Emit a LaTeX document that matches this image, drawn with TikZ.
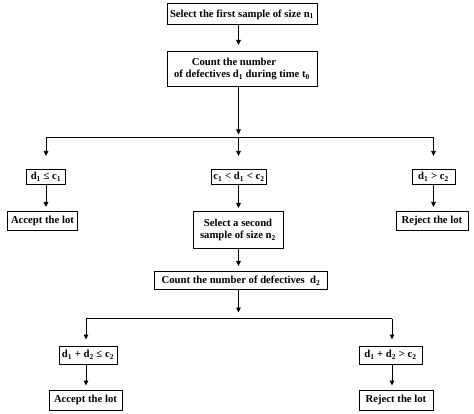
\documentclass[tikz,border=0pt]{standalone}
\usepackage{fontspec}
\setmainfont{Liberation Serif}
\usetikzlibrary{arrows.meta}
\newcommand{\sbs}[1]{\textsubscript{#1}}
\begin{document}
\begin{tikzpicture}[x=1pt,y=-1pt,
  box/.style={draw,line width=1pt,inner sep=0pt,font=\bfseries\fontsize{10.7}{12.5}\selectfont,align=center},
  arr/.style={line width=0.9pt,-{Triangle[length=5pt,width=4.5pt]}},
  ln/.style={line width=0.9pt}]
\useasboundingbox (0,0) rectangle (474,414);
\fill[white] (0,0) rectangle (474,414);
% nodes
\node[box,minimum width=150pt,minimum height=21pt] (b1) at (242,14.5) {Select the first sample of size n\sbs{1}};
\node[box,minimum width=150pt,minimum height=35pt] (b2) at (242,69) {\hspace*{-16pt}Count the number\\ of defectives d\sbs{1} during time t\sbs{0}};
\node[box,minimum width=39pt,minimum height=15pt] (c1) at (46,177) {d\sbs{1} ≤ c\sbs{1}};
\node[box,minimum width=55pt,minimum height=15pt] (c2) at (239,177) {c\sbs{1} < d\sbs{1} < c\sbs{2}};
\node[box,minimum width=43pt,minimum height=15pt] (c3) at (433.5,177) {d\sbs{1} > c\sbs{2}};
\node[box,minimum width=70pt,minimum height=19pt] (a1) at (42.5,221) {Accept the lot};
\node[box,minimum width=90pt,minimum height=37pt] (s2) at (238,230) {Select a second\\ sample of size n\sbs{2}};
\node[box,minimum width=72pt,minimum height=19pt] (r1) at (432,221) {Reject the lot};
\node[box,minimum width=173pt,minimum height=18pt] (d2) at (241,280.5) {Count the number of defectives\enspace d\sbs{2}};
\node[box,minimum width=58pt,minimum height=18pt] (e1) at (88,355) {d\sbs{1} + d\sbs{2} ≤ c\sbs{2}};
\node[box,minimum width=63pt,minimum height=18pt] (e2) at (390.5,355) {d\sbs{1} + d\sbs{2} > c\sbs{2}};
\node[box,minimum width=73pt,minimum height=20pt] (f1) at (85.5,400) {Accept the lot};
\node[box,minimum width=74pt,minimum height=20pt] (f2) at (396,400) {Reject the lot};
% junctions
\coordinate (j1) at (238.5,137.5);
\coordinate (jl) at (c1.north |- j1);
\coordinate (jr) at (c3.north |- j1);
\coordinate (k1) at (238.5,318.5);
\coordinate (kl) at (86,318.5);
\coordinate (kr) at (392,318.5);
% connectors
\draw[arr,shorten >=6pt] (j1 |- b1.south) -- (j1 |- b2.north);
\draw[arr,shorten >=3pt] (j1 |- b2.south) -- (j1);
\draw[ln] (jl) -- (jr);
\draw[arr,shorten >=13pt] (jl) -- (c1.north);
\draw[arr,shorten >=13pt] (j1) -- (j1 |- c2.north);
\draw[arr,shorten >=13pt] (jr) -- (c3.north);
\draw[arr,shorten >=4pt] (c1.south) -- (c1.south |- a1.north);
\draw[arr,shorten >=3pt] (j1 |- c2.south) -- (j1 |- s2.north);
\draw[arr,shorten >=4pt] (c3.south) -- (c3.south |- r1.north);
\draw[arr,shorten >=5pt] (j1 |- s2.south) -- (j1 |- d2.north);
\draw[arr,shorten >=6pt] (k1 |- d2.south) -- (k1);
\draw[ln] (kl) -- (kr);
\draw[arr,shorten >=6pt] (kl) -- (kl |- e1.north);
\draw[arr,shorten >=6pt] (kr) -- (kr |- e2.north);
\draw[arr,shorten >=4pt] (kl |- e1.south) -- (kl |- f1.north);
\draw[arr,shorten >=4pt] (kr |- e2.south) -- (kr |- f2.north);
\end{tikzpicture}
\end{document}
